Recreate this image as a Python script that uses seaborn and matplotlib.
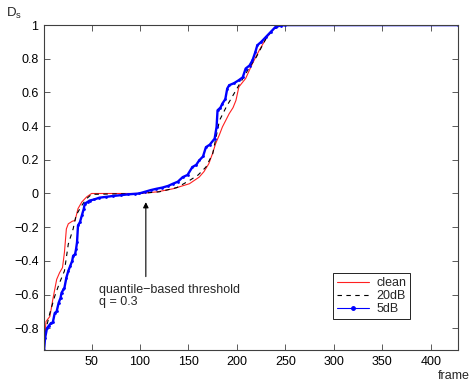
import matplotlib
matplotlib.use("Agg")
import matplotlib.pyplot as plt
from matplotlib.lines import Line2D
import seaborn as sns
import pandas as pd

sns.set_style("white")
plt.rcParams['font.family'] = ['Liberation Sans', 'DejaVu Sans']

clean_x = [1, 3, 5, 7, 10, 14, 17, 20, 22, 24, 26, 30, 33, 36, 40, 45, 50,
           100, 118, 134, 151, 161, 166, 171, 175, 178, 182, 185, 189, 192, 196, 199, 202,
           209, 216, 223, 230, 236, 240, 245, 250, 428]
clean_y = [-0.885, -0.76, -0.745, -0.73, -0.63, -0.51, -0.47, -0.44, -0.35, -0.21, -0.18,
           -0.165, -0.16, -0.09, -0.05, -0.02, 0.0,
           0.0, 0.01, 0.028, 0.058, 0.097, 0.13, 0.177, 0.24, 0.296, 0.35, 0.395, 0.44, 0.474,
           0.51, 0.553, 0.633, 0.683, 0.772, 0.85, 0.92, 0.965, 0.99, 0.998, 1.0, 1.0]

db20_x = [1, 4, 7, 12, 17, 22, 24, 26, 31, 34, 40, 45, 50,
          100, 120, 138, 151, 160, 168, 175, 182, 189, 195, 202, 213, 220, 230, 236, 242,
          250, 428]
db20_y = [-0.88, -0.78, -0.71, -0.61, -0.53, -0.46, -0.38, -0.30, -0.21, -0.13, -0.07, -0.03,
          -0.005,
          0.0, 0.01, 0.035, 0.077, 0.11, 0.157, 0.236, 0.434, 0.514, 0.573, 0.643, 0.75, 0.81,
          0.92, 0.965, 0.99, 1.0, 1.0]

db5_x = [1, 2, 4, 6, 8, 10, 12, 14, 16, 18, 19, 21, 22, 24, 26, 28, 30, 31, 33, 34, 35, 36,
         38, 40, 42, 43, 46, 48, 53, 58, 65, 72, 80, 88, 95, 99, 105, 111, 117, 123, 129,
         134, 139, 144, 149, 154, 158, 161, 165, 168, 172, 177, 179, 180, 183, 185, 188,
         190, 192, 197, 202, 206, 209, 213, 216, 219, 221, 225, 230, 235, 240, 245, 250, 428]
db5_y = [-0.93, -0.86, -0.80, -0.785, -0.77, -0.766, -0.71, -0.70, -0.65, -0.62, -0.59,
         -0.57, -0.56, -0.50, -0.46, -0.43, -0.40, -0.37, -0.36, -0.33, -0.29, -0.19, -0.17,
         -0.13, -0.09, -0.06, -0.05, -0.042, -0.035, -0.025, -0.02, -0.015, -0.01, -0.005,
         -0.002, 0.0, 0.01, 0.02, 0.028, 0.035, 0.045, 0.058, 0.07, 0.097, 0.11, 0.157, 0.17,
         0.196, 0.22, 0.275, 0.29, 0.326, 0.395, 0.494, 0.51, 0.534, 0.56, 0.623, 0.643,
         0.655, 0.673, 0.69, 0.742, 0.76, 0.79, 0.84, 0.88, 0.9, 0.93, 0.96, 0.99, 0.997, 1.0,
         1.0]

series_names = ['clean', '20dB', '5dB']
x_ticks = [50, 100, 150, 200, 250, 300, 350, 400]
y_ticks = [-0.8, -0.6, -0.4, -0.2, 0, 0.2, 0.4, 0.6, 0.8, 1]
y_ticklabels = ['\u22120.8', '\u22120.6', '\u22120.4', '\u22120.2', '0', '0.2', '0.4', '0.6', '0.8', '1']

fig = plt.figure(figsize=(4.74, 3.86), dpi=100)
ax = fig.add_axes([0.093, 0.093, 0.873, 0.842])

df_c = pd.DataFrame({'frame': clean_x, 'Ds': clean_y})
df_20 = pd.DataFrame({'frame': db20_x, 'Ds': db20_y})
df_5 = pd.DataFrame({'frame': db5_x, 'Ds': db5_y})

red = '#ff2020'
blue = '#0000ff'
sns.lineplot(data=df_c, x='frame', y='Ds', ax=ax, color=red, linewidth=0.8,
             sort=False, estimator=None, legend=False)
sns.lineplot(data=df_20, x='frame', y='Ds', ax=ax, color='black', linewidth=0.8,
             linestyle=(0, (4, 4)), sort=False, estimator=None, legend=False)
sns.lineplot(data=df_5, x='frame', y='Ds', ax=ax, color=blue, linewidth=1.7,
             marker='.', markersize=4, markeredgewidth=0, sort=False, estimator=None,
             legend=False)

ax.set_xlim(1, 428)
ax.set_ylim(-0.93, 1.0)
ax.set_xticks(x_ticks)
ax.set_yticks(y_ticks)
ax.set_yticklabels(y_ticklabels)
ax.set_xlabel('')
ax.set_ylabel('')
ax.tick_params(direction='in', length=4, width=0.6, labelsize=9, colors='#404040',
               labelcolor='black', top=True, right=True, left=True, bottom=True, pad=4)
for s in ax.spines.values():
    s.set_color('#404040')
    s.set_linewidth(0.8)
    s.set_visible(True)

handles = [Line2D([], [], color=red, lw=0.8),
           Line2D([], [], color='black', lw=0.8, linestyle=(0, (4, 4))),
           Line2D([], [], color=blue, lw=0.8, marker='.', markersize=5)]
leg = ax.legend(handles, series_names, loc='lower right', bbox_to_anchor=(0.885, 0.095),
                fontsize=9, frameon=True, fancybox=False, handlelength=2.6, borderpad=0.3,
                labelspacing=0.1, handletextpad=0.6, borderaxespad=0)
leg.get_frame().set_edgecolor('black')
leg.get_frame().set_linewidth(0.6)
leg.get_frame().set_alpha(1)

ax.annotate('', xy=(106, -0.035), xytext=(106, -0.51),
            arrowprops=dict(arrowstyle='-|>', color='black', lw=0.8, mutation_scale=8))
ax.text(58, -0.535, 'quantile\u2212based threshold\nq = 0.3', fontsize=9, va='top', ha='left',
        linespacing=1.1)

fig.text(0.012, 0.945, r'D$_\mathregular{s}$', fontsize=9.5, va='bottom', ha='left')
fig.text(0.99, 0.01, 'frame', fontsize=9, va='bottom', ha='right')

fig.savefig('out.png', dpi=100)
